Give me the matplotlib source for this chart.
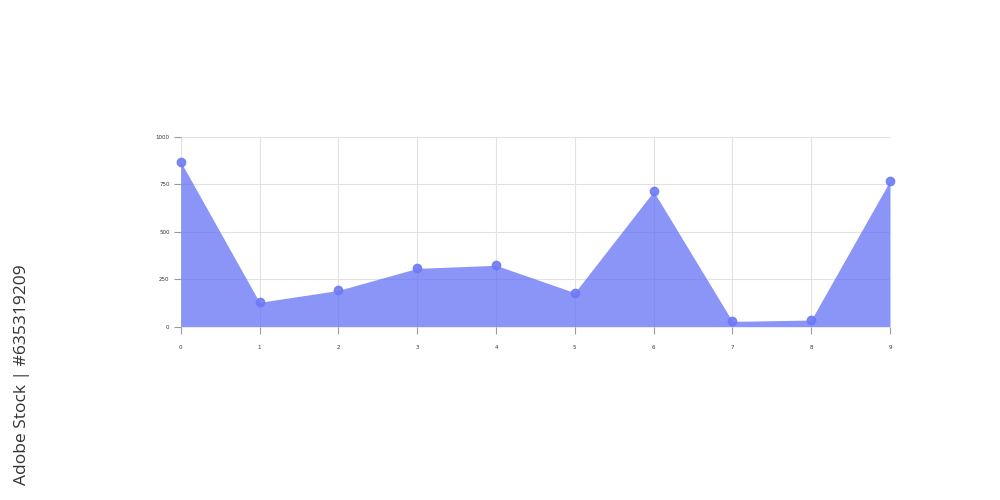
import matplotlib
matplotlib.use("Agg")
import matplotlib.pyplot as plt

x_values = [0, 1, 2, 3, 4, 5, 6, 7, 8, 9]
y_values = [868, 128, 191, 307, 323, 179, 712, 28, 35, 768]
y_ticks = [0, 250, 500, 750, 1000]
side_text = "Adobe Stock | #635319209"

fig = plt.figure(figsize=(10, 5), dpi=100)
fig.patch.set_facecolor("white")
ax = fig.add_axes([0.1807, 0.3466, 0.7093, 0.38])

ax.fill_between(x_values, y_values, 0, color="#5f6cf5", alpha=0.72, linewidth=0, zorder=2)
ax.plot(x_values, y_values, linestyle="none", marker="o", markersize=6,
        color="#6e7af6", alpha=0.9, clip_on=False, zorder=3)

ax.set_xlim(0, 9)
ax.set_ylim(0, 1000)
ax.set_xticks(x_values)
ax.set_yticks(y_ticks)
ax.grid(True, color="#e2e2e2", linewidth=0.8, zorder=0)
ax.set_axisbelow(True)
for s in ax.spines.values():
    s.set_visible(False)
ax.tick_params(axis="both", length=5, width=0.8, color="#9a9a9a",
               labelsize=4, labelcolor="#333333")
ax.tick_params(axis="x", pad=8)
ax.tick_params(axis="y", pad=3)

fig.text(0.022, 0.25, side_text, rotation=90, fontsize=12.5, color="#333333",
         family="Open Sans", ha="center", va="center")

fig.savefig("out.png", dpi=100, facecolor="white")
